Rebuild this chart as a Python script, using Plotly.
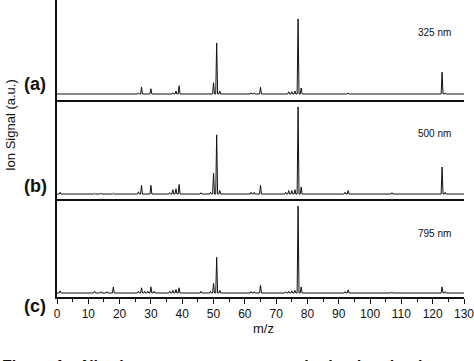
import plotly.graph_objects as go

# ---- data (relative ion signal, 77 peak = 100) ----
mz_a = [1, 12, 14, 26, 27, 30, 37, 38, 39, 46, 50, 51, 52, 62, 63, 65, 74, 75, 76, 77, 78, 93, 94, 107, 123, 124]
int_a = [0.5, 0.6, 0.6, 1.5, 9, 7, 1.5, 4, 11, 1, 15, 68, 4, 1.5, 1.5, 9, 3, 3, 4, 100, 8, 1.5, 1, 1, 29, 1.5]

mz_b = [1, 12, 14, 18, 26, 27, 30, 36, 37, 38, 39, 46, 49, 50, 51, 52, 62, 63, 65, 73, 74, 75, 76, 77, 78, 92, 93, 107, 123, 124]
int_b = [2, 0.8, 1, 1, 2.5, 10, 10, 1.5, 5, 6, 11, 1.5, 2, 24, 68, 4, 2, 2, 10, 2, 4, 4, 5, 100, 8, 2, 4, 1.5, 31, 2]

mz_c = [1, 12, 14, 16, 18, 26, 27, 28, 29, 30, 31, 36, 37, 38, 39, 46, 49, 50, 51, 52, 62, 63, 65, 73, 74, 75, 76, 77, 78, 92, 93, 107, 123, 124]
int_c = [2.5, 2, 1.5, 1.5, 7, 2, 6, 2, 2, 7, 2, 2, 3, 4, 6, 2, 2, 11, 41, 3, 1.5, 1.5, 9, 1.5, 2, 2.5, 3, 100, 7, 1.5, 3.5, 1, 7, 1.5]

panel_labels = ["(a)", "(b)", "(c)"]
wavelengths = ["325 nm", "500 nm", "795 nm"]
x_ticks = list(range(0, 131, 10))
x_title = "m/z"
y_title = "Ion Signal (a.u.)"
caption = "Figure 1.   Nitrobenzene mass spectra obtained at the three wavelengths"

FONT = "Liberation Sans, Arial, sans-serif"
W, H = 474, 361
x_dom = [57 / W, 464 / W]
# panel pixel extents (top, bottom)
panels_px = [(0, 100), (100, 199), (200, 297)]
y_ranges = [[-8, 125.3], [-5.7, 108], [-4.6, 107]]
HALF = 0.3


def stick_profile(mz, inten):
    xs, ys = [0], [0]
    for m, h in sorted(zip(mz, inten)):
        xs += [m - HALF, m, m + HALF]
        ys += [0, h, 0]
    xs.append(130)
    ys.append(0)
    return xs, ys


fig = go.Figure()
datasets = [(mz_a, int_a), (mz_b, int_b), (mz_c, int_c)]
for i, (mz, inten) in enumerate(datasets):
    xs, ys = stick_profile(mz, inten)
    suffix = "" if i == 0 else str(i + 1)
    fig.add_trace(go.Scatter(x=xs, y=ys, mode="lines",
                             line=dict(color="#111111", width=1),
                             xaxis="x" + suffix, yaxis="y" + suffix,
                             showlegend=False, hoverinfo="skip"))

layout = dict(width=W, height=H, margin=dict(l=0, r=0, t=0, b=0, autoexpand=False),
              paper_bgcolor="white", plot_bgcolor="white",
              font=dict(family=FONT, color="#111111"), showlegend=False)

for i, (top, bot) in enumerate(panels_px):
    suffix = "" if i == 0 else str(i + 1)
    last = i == 2
    xa = dict(domain=x_dom, range=[0, 130], anchor="y" + suffix,
              showline=True, linecolor="#111111", linewidth=1.6,
              showgrid=False, zeroline=False, automargin=False,
              showticklabels=last, fixedrange=True)
    if last:
        xa.update(tickmode="array", tickvals=x_ticks, ticks="outside",
                  ticklen=5, tickwidth=1.2, tickcolor="#111111",
                  ticklabeloverflow="allow",
                  tickfont=dict(size=12, family=FONT),
                  minor=dict(dtick=5, tick0=0, ticks="outside", ticklen=3,
                             tickwidth=1.2, tickcolor="#111111", showgrid=False))
    else:
        xa.update(ticks="")
    ya = dict(domain=[(H - bot) / H, (H - top) / H], range=y_ranges[i],
              anchor="x" + suffix, showline=True, linecolor="#111111",
              linewidth=1.6, showgrid=False, zeroline=False, automargin=False,
              showticklabels=False, ticks="", fixedrange=True)
    layout["xaxis" + suffix] = xa
    layout["yaxis" + suffix] = ya

fig.update_layout(**layout)

annotations = []
label_y = [84, 186, 306]
wl_y = [32, 133, 233]
for i in range(3):
    annotations.append(dict(text="<b>%s</b>" % panel_labels[i], xref="paper", yref="paper",
                            x=35 / W, y=(H - label_y[i]) / H, showarrow=False,
                            xanchor="center", yanchor="middle",
                            font=dict(size=18, family=FONT, color="#111111")))
    annotations.append(dict(text=wavelengths[i], xref="paper", yref="paper",
                            x=434 / W, y=(H - wl_y[i]) / H, showarrow=False,
                            xanchor="center", yanchor="middle",
                            font=dict(size=10, family=FONT, color="#111111")))
annotations.append(dict(text=y_title, xref="paper", yref="paper", x=10 / W,
                        y=(H - 125) / H, textangle=-90, showarrow=False,
                        xanchor="center", yanchor="middle",
                        font=dict(size=13, family=FONT, color="#111111")))
annotations.append(dict(text=x_title, xref="paper", yref="paper", x=263 / W,
                        y=(H - 328) / H, showarrow=False,
                        xanchor="center", yanchor="middle",
                        font=dict(size=13, family=FONT, color="#111111")))
annotations.append(dict(text="<b>%s</b>" % caption, xref="paper", yref="paper",
                        x=0, y=(H - 356) / H, showarrow=False,
                        xanchor="left", yanchor="top",
                        font=dict(size=16, family=FONT, color="#111111")))
fig.update_layout(annotations=annotations)

fig.write_html("out.html")
